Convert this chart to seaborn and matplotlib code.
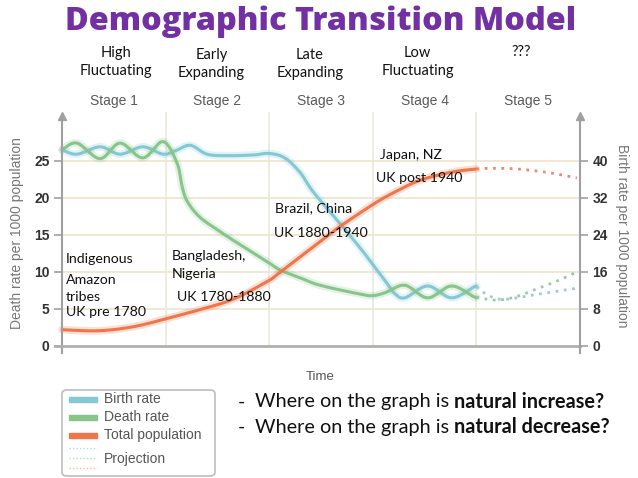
import numpy as np
import matplotlib
matplotlib.use("Agg")
import matplotlib.pyplot as plt
from matplotlib.patches import FancyBboxPatch, Rectangle
from matplotlib.lines import Line2D
import seaborn as sns

# ---- data (x in stage units 0..5, y in death-rate units per 1000) ----
stages = ["Stage 1", "Stage 2", "Stage 3", "Stage 4", "Stage 5"]
stage_desc = ["High\nFluctuating", "Early\nExpanding", "Late\nExpanding", "Low\nFluctuating", "???"]
left_ticks = [0, 5, 10, 15, 20, 25]
right_ticks = [0, 8, 16, 24, 32, 40]

birth_x = [0.0, 0.145, 0.367, 0.56, 0.78, 0.975, 1.1, 1.24, 1.4, 1.6, 1.85, 2.0, 2.15,
           2.3, 2.42, 2.68, 2.88, 3.0, 3.13, 3.21, 3.31, 3.53, 3.76, 3.98, 4.0]
birth_y = [26.5, 25.9, 26.9, 25.9, 26.9, 25.9, 26.4, 27.1, 25.9, 25.7, 25.8, 26.0, 25.4,
           23.4, 20.9, 16.6, 13.2, 11.0, 8.6, 7.1, 6.5, 8.1, 6.5, 8.0, 8.0]

death_x = [0.0, 0.145, 0.367, 0.56, 0.78, 0.975, 1.11, 1.16, 1.21, 1.33, 1.5, 1.65, 1.98,
           2.1, 2.3, 2.49, 2.88, 3.0, 3.12, 3.31, 3.53, 3.76, 3.98, 4.0]
death_y = [26.5, 27.4, 25.3, 27.4, 25.4, 27.6, 24.7, 21.5, 19.5, 17.4, 15.7, 14.3, 11.4,
           10.3, 9.2, 8.2, 7.0, 6.8, 7.2, 8.2, 6.5, 8.1, 6.6, 6.6]

pop_x = [0.0, 0.35, 0.69, 1.01, 1.33, 1.65, 1.98, 2.1, 2.49, 2.68, 3.0, 3.2, 3.46, 3.77, 4.0]
pop_y = [2.2, 2.05, 2.6, 3.7, 4.9, 6.3, 8.7, 9.9, 14.1, 16.1, 19.1, 20.7, 22.4, 23.5, 23.9]

# projections (stage 5)
proj_pop_x = [4.0, 4.15, 4.4, 4.7, 4.97]
proj_pop_y = [23.9, 24.0, 23.9, 23.4, 22.7]
proj_death_x = [4.0, 4.18, 4.37, 4.6, 4.8, 4.97]
proj_death_y = [6.6, 6.2, 6.6, 7.8, 8.9, 10.0]
proj_birth_x = [4.0, 4.12, 4.27, 4.6, 4.97]
proj_birth_y = [8.0, 6.8, 6.3, 7.0, 7.8]

BLUE = "#83c8d3"
GREEN = "#88c58b"
ORANGE = "#ef7649"
W, H = 638, 478


def smooth(xs, ys, n=16):
    # catmull-rom through the read points, only for drawing a curved line
    p = np.column_stack([xs, ys]).astype(float)
    p = np.vstack([p[0], p, p[-1]])
    out = []
    t = np.linspace(0, 1, n, endpoint=False)[:, None]
    for i in range(1, len(p) - 2):
        p0, p1, p2, p3 = p[i - 1], p[i], p[i + 1], p[i + 2]
        out.append(0.5 * (2 * p1 + (-p0 + p2) * t + (2 * p0 - 5 * p1 + 4 * p2 - p3) * t ** 2
                          + (-p0 + 3 * p1 - 3 * p2 + p3) * t ** 3))
    out.append(p[-2][None])
    c = np.vstack(out)
    return c[:, 0], c[:, 1]


def fxy(px, py):
    return px / W, 1 - py / H


sns.set_style("white")
plt.rcParams["font.family"] = ["Liberation Sans", "DejaVu Sans"]

fig = plt.figure(figsize=(W / 100, H / 100), dpi=100)
ax = fig.add_axes([55 / W, (H - 353) / H, 525 / W, (353 - 112) / H])
ax.set_xlim(-7 / 103.6, 5)
ax.set_ylim(-0.95, 31.6)

# grid
ax.hlines([5, 10, 15, 20, 25], 0, 5, color="#efe3cd", lw=1.2, zorder=0)
ax.vlines([1, 2, 3, 4], 0, 31.6, color="#ebe7da", lw=1.2, zorder=0)

# lines
for xs, ys, c in [(birth_x, birth_y, BLUE), (death_x, death_y, GREEN), (pop_x, pop_y, ORANGE)]:
    sx, sy = smooth(xs, ys)
    sns.lineplot(x=sx, y=sy, ax=ax, color=c, lw=5.5, alpha=0.22, sort=False, estimator=None)
    sns.lineplot(x=sx, y=sy, ax=ax, color=c, lw=2.2, sort=False, estimator=None)

for xs, ys, c in [(proj_birth_x, proj_birth_y, "#9ccbd6"), (proj_death_x, proj_death_y, "#9fc7a4"),
                  (proj_pop_x, proj_pop_y, "#ee8a6c")]:
    sx, sy = smooth(xs, ys)
    sns.lineplot(x=sx, y=sy, ax=ax, color=c, lw=2.0, linestyle=(0, (1, 2)), sort=False, estimator=None)

# axes styling
for s in ["top", "right"]:
    ax.spines[s].set_visible(False)
ax.spines["left"].set_position(("data", 0))
ax.spines["left"].set_bounds(-0.95, 31.0)
ax.spines["left"].set_color("#a0a0a0")
ax.spines["left"].set_linewidth(1.5)
ax.spines["bottom"].set_position(("data", 0))
ax.spines["bottom"].set_color("#b0b0b0")
ax.spines["bottom"].set_linewidth(2)
ax.plot([0], [31.0], marker="^", ms=6, color="#a0a0a0", clip_on=False)

ax.set_xticks([1, 2, 3, 4])
ax.set_xticklabels([])
ax.tick_params(axis="x", direction="out", length=6, color="#d0d0d0", width=1.2)
ax.set_yticks(left_ticks)
ax.set_yticklabels([str(v) for v in left_ticks], fontweight="bold", fontsize=10, color="#333333")
ax.tick_params(axis="y", direction="out", length=6, color="#a0a0a0", width=1.2, pad=3)

ax2 = ax.twinx()
ax2.set_ylim(-0.95 * 1.6, 31.6 * 1.6)
for s in ["top", "left", "bottom"]:
    ax2.spines[s].set_visible(False)
ax2.spines["right"].set_bounds(-0.95 * 1.6, 31.0 * 1.6)
ax2.spines["right"].set_color("#a0a0a0")
ax2.spines["right"].set_linewidth(1.5)
ax2.plot([1], [31.0 * 1.6], marker="^", ms=6, color="#a0a0a0", clip_on=False,
         transform=ax2.get_yaxis_transform())
ax2.set_yticks(right_ticks)
ax2.set_yticklabels([str(v) for v in right_ticks], fontweight="bold", fontsize=10, color="#333333")
ax2.tick_params(axis="y", direction="out", length=6, color="#a0a0a0", width=1.2, pad=3)

fig.text(*fxy(17, 233), "Death rate per 1000 population", rotation=90, ha="center", va="center",
         fontsize=10, color="#777777")
fig.text(*fxy(622, 236), "Birth rate per 1000 population", rotation=270, ha="center", va="center",
         fontsize=10, color="#777777")
fig.text(*fxy(320, 377), "Time", ha="center", va="center", fontsize=9.5, color="#555555")

# stage labels
for i, (st, desc) in enumerate(zip(stages, stage_desc)):
    cx = 62 + 103.6 * (i + 0.5)
    fig.text(*fxy(cx, 101), st, ha="center", va="center", fontsize=10, color="#5a5a5a")
    dy = [62, 64, 64, 62, 52][i]
    fig.text(*fxy(cx + [2, -6, -11, -7, -7][i], dy), desc, ha="center", va="center", fontsize=10.5,
             family="Lato", color="#111111", linespacing=1.4)

renderer = fig.canvas.get_renderer()

# title scaled to its width in the picture
title = fig.text(*fxy(321, 22), "Demographic Transition Model", ha="center", va="center",
                 fontsize=24, fontweight=800, family="Open Sans", color="#7330a3")
tw = title.get_window_extent(renderer).width
title.set_fontsize(24 * 512 / tw)

# annotations inside the chart
notes = [(66, 259, "Indigenous"), (66, 280, "Amazon"), (66, 297, "tribes"), (66, 312, "UK pre 1780"),
         (172, 256, "Bangladesh,"), (172, 274, "Nigeria"), (177, 297, "UK 1780-1880"),
         (275, 208, "Brazil, China"), (274, 233, "UK 1880-1940"),
         (380, 155, "Japan, NZ"), (376, 178, "UK post 1940")]
for px, py, s in notes:
    fig.text(*fxy(px, py), s, ha="left", va="center", fontsize=10.2, family="Lato", color="#111111")

# legend box
fig.patches.append(FancyBboxPatch(fxy(62, 476), 153 / W, 86 / H, boxstyle="round,pad=0,rounding_size=0.008",
                                  transform=fig.transFigure, facecolor="white", edgecolor="#bdbdbd", lw=1.2))
for py, c, s in [(399, BLUE, "Birth rate"), (417, GREEN, "Death rate"), (435, ORANGE, "Total population")]:
    fig.patches.append(Rectangle(fxy(69, py + 2.5), 28 / W, 5 / H, transform=fig.transFigure, color=c))
    fig.text(*fxy(104, py), s, ha="left", va="center", fontsize=10, color="#555555")
for py, c in [(448, "#b5dbe2"), (458, "#b8dcb8"), (468, "#f4b8a4")]:
    x0, y0 = fxy(69, py)
    x1, _ = fxy(97, py)
    fig.lines.append(Line2D([x0, x1], [y0, y0], transform=fig.transFigure, color=c, lw=1, linestyle=(0, (1, 1.5))))
fig.text(*fxy(104, 459), "Projection", ha="left", va="center", fontsize=10, color="#555555")

# questions
qsize = 14
probe = fig.text(0, 0, "Where on the graph is natural increase?", fontsize=qsize, family="Lato")
qsize = qsize * 347 / probe.get_window_extent(renderer).width
probe.remove()


def width(s, weight="normal"):
    t = fig.text(0, 0, s, fontsize=qsize, family="Lato", fontweight=weight)
    w = t.get_window_extent(renderer).width
    t.remove()
    return w


space = width("a a") - width("aa")
for py, word in [(402, "natural increase?"), (427, "natural decrease?")]:
    fig.text(*fxy(238, py), "-", ha="left", va="center", fontsize=qsize, family="Lato", color="#111111")
    t = fig.text(*fxy(255, py), "Where on the graph is", ha="left", va="center", fontsize=qsize,
                 family="Lato", color="#111111")
    x = 255 + t.get_window_extent(renderer).width + space
    fig.text(*fxy(x, py), word, ha="left", va="center", fontsize=qsize, family="Lato",
             fontweight="bold", color="#111111")

fig.savefig("out.png", dpi=100)
